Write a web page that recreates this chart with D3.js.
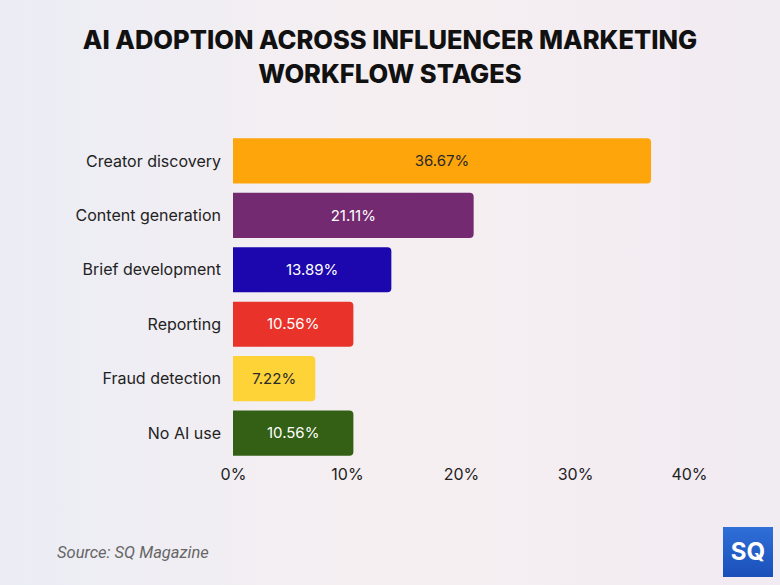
<!DOCTYPE html>
<html>
<head>
<meta charset="utf-8">
<script src="https://cdn.jsdelivr.net/npm/d3@7"></script>
<style>
  body { margin: 0; }
  svg { display: block; }
</style>
</head>
<body>
<svg id="chart" width="780" height="585"></svg>
<script>
const categories = ['Creator discovery', 'Content generation', 'Brief development', 'Reporting', 'Fraud detection', 'No AI use'];
const values = [36.67, 21.11, 13.89, 10.56, 7.22, 10.56];
const colors = ['#FEA50B', '#742A70', '#1C07AE', '#E8322A', '#FED338', '#336014'];
const labelColors = ['#2a2a2a', '#ffffff', '#ffffff', '#ffffff', '#2a2a2a', '#ffffff'];
const tickValues = [0, 10, 20, 30, 40];

const svg = d3.select('#chart');
const width = 780, height = 585;

// background
const defs = svg.append('defs');
const grad = defs.append('linearGradient').attr('id', 'bg').attr('x1', '0%').attr('x2', '100%').attr('y1', '0%').attr('y2', '0%');
grad.append('stop').attr('offset', '0%').attr('stop-color', '#EBEDF5');
grad.append('stop').attr('offset', '50%').attr('stop-color', '#F6EFF1');
grad.append('stop').attr('offset', '100%').attr('stop-color', '#F1EBF2');
svg.append('rect').attr('width', width).attr('height', height).attr('fill', 'url(#bg)');

// title
const title = svg.append('text')
  .attr('text-anchor', 'middle')
  .attr('font-family', 'Inter, sans-serif')
  .attr('font-weight', 800)
  .attr('font-size', 25.5)
  .attr('fill', '#111');
title.append('tspan').attr('x', 390).attr('y', 49).text('AI ADOPTION ACROSS INFLUENCER MARKETING');
title.append('tspan').attr('x', 390).attr('y', 83).text('WORKFLOW STAGES');

const x = d3.scaleLinear().domain([0, 40]).range([233, 689]);
const y = d3.scaleBand().domain(categories).range([134, 460]).paddingInner(0.17).paddingOuter(0.08);

const r = 4;
const barPath = (d, i) => {
  const x0 = x(0), x1 = x(values[i]), y0 = y(d), h = y.bandwidth();
  return `M${x0},${y0} H${x1 - r} Q${x1},${y0} ${x1},${y0 + r} V${y0 + h - r} Q${x1},${y0 + h} ${x1 - r},${y0 + h} H${x0} Z`;
};

svg.append('g').selectAll('path')
  .data(categories)
  .join('path')
  .attr('d', barPath)
  .attr('fill', (d, i) => colors[i]);

svg.append('g').selectAll('text')
  .data(categories)
  .join('text')
  .attr('x', (d, i) => (x(0) + x(values[i])) / 2)
  .attr('y', d => y(d) + y.bandwidth() / 2)
  .attr('dy', '0.35em')
  .attr('text-anchor', 'middle')
  .attr('font-family', 'Inter, sans-serif')
  .attr('font-size', 15)
  .attr('fill', (d, i) => labelColors[i])
  .text((d, i) => values[i].toFixed(2) + '%');

// category labels
svg.append('g').selectAll('text')
  .data(categories)
  .join('text')
  .attr('x', 221)
  .attr('y', d => y(d) + y.bandwidth() / 2)
  .attr('dy', '0.35em')
  .attr('text-anchor', 'end')
  .attr('font-family', 'Inter, sans-serif')
  .attr('font-size', 16)
  .attr('fill', '#222')
  .text(d => d);

// x axis
const xAxis = svg.append('g')
  .attr('transform', 'translate(0,460)')
  .call(d3.axisBottom(x).tickValues(tickValues).tickFormat(d => d + '%').tickSize(0).tickPadding(9));
xAxis.select('.domain').remove();
xAxis.selectAll('text')
  .attr('font-family', 'Inter, sans-serif')
  .attr('font-size', 16)
  .attr('fill', '#222');

// source
svg.append('text')
  .attr('x', 57)
  .attr('y', 558)
  .attr('font-family', 'Roboto, sans-serif')
  .attr('font-style', 'italic')
  .attr('font-size', 16.5)
  .attr('fill', '#666')
  .text('Source: SQ Magazine');

// logo
const logoGrad = defs.append('linearGradient').attr('id', 'logo').attr('x1', '0%').attr('x2', '0%').attr('y1', '0%').attr('y2', '100%');
logoGrad.append('stop').attr('offset', '0%').attr('stop-color', '#2F6FD8');
logoGrad.append('stop').attr('offset', '100%').attr('stop-color', '#1A4FB8');
svg.append('rect').attr('x', 723).attr('y', 527).attr('width', 50).attr('height', 50).attr('fill', 'url(#logo)');
svg.append('text')
  .attr('x', 748)
  .attr('y', 560)
  .attr('text-anchor', 'middle')
  .attr('font-family', 'Inter, sans-serif')
  .attr('font-weight', 700)
  .attr('font-size', 24)
  .attr('fill', '#fff')
  .text('SQ');
</script>
</body>
</html>
